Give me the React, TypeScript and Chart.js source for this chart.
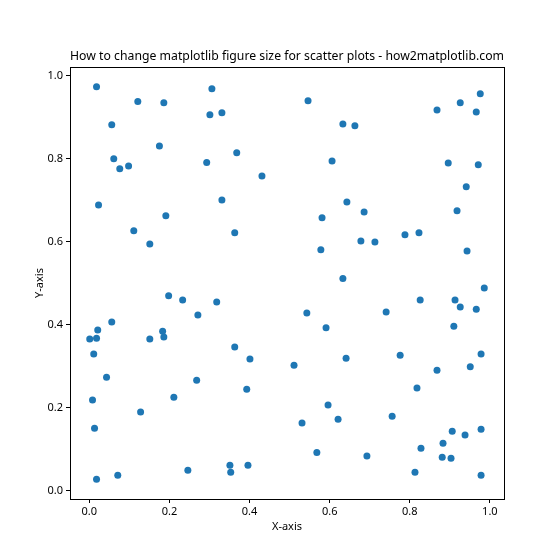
import React, { useEffect, useRef } from "react";
import { Chart, registerables } from "chart.js";

Chart.register(...registerables);

const xValues = [
  0.018, 0.121, 0.186, 0.306, 0.301, 0.331, 0.056, 0.175, 0.061, 0.076,
  0.098, 0.293, 0.368, 0.431, 0.023, 0.331, 0.191, 0.111, 0.363, 0.151,
  0.546, 0.633, 0.663, 0.868, 0.926, 0.966, 0.976, 0.606, 0.896, 0.971,
  0.941, 0.643, 0.581, 0.686, 0.918, 0.678, 0.713, 0.788, 0.823, 0.578,
  0.943, 0.633, 0.986, 0.826, 0.913, 0.926, 0.966, 0.543, 0.741, 0.591,
  0.910, 0.641, 0.776, 0.978, 0.511, 0.868, 0.951, 0.818, 0.596, 0.531,
  0.621, 0.756, 0.906, 0.938, 0.978, 0.883, 0.828, 0.568, 0.693, 0.881,
  0.903, 0.813, 0.978, 0.198, 0.233, 0.318, 0.271, 0.056, 0.021, 0.183,
  0.001, 0.018, 0.151, 0.186, 0.363, 0.401, 0.011, 0.043, 0.268, 0.393,
  0.211, 0.008, 0.128, 0.013, 0.351, 0.396, 0.353, 0.246, 0.071, 0.018,
];

const yValues = [
  0.973, 0.937, 0.934, 0.968, 0.905, 0.910, 0.881, 0.830, 0.799, 0.775,
  0.782, 0.790, 0.814, 0.758, 0.688, 0.700, 0.662, 0.626, 0.621, 0.594,
  0.939, 0.883, 0.879, 0.917, 0.934, 0.912, 0.956, 0.794, 0.789, 0.785,
  0.732, 0.695, 0.657, 0.671, 0.674, 0.601, 0.599, 0.616, 0.621, 0.580,
  0.577, 0.511, 0.488, 0.459, 0.459, 0.442, 0.437, 0.428, 0.430, 0.392,
  0.396, 0.319, 0.326, 0.329, 0.302, 0.290, 0.298, 0.247, 0.206, 0.163,
  0.172, 0.179, 0.143, 0.134, 0.148, 0.114, 0.102, 0.092, 0.083, 0.080,
  0.078, 0.044, 0.037, 0.469, 0.459, 0.454, 0.423, 0.406, 0.387, 0.384,
  0.365, 0.367, 0.365, 0.370, 0.346, 0.317, 0.329, 0.273, 0.266, 0.244,
  0.225, 0.218, 0.189, 0.150, 0.061, 0.061, 0.044, 0.049, 0.037, 0.027,
];

const xTicks = [0.0, 0.2, 0.4, 0.6, 0.8, 1.0];
const yTicks = [0.0, 0.2, 0.4, 0.6, 0.8, 1.0];

const titleText = "How to change matplotlib figure size for scatter plots - how2matplotlib.com";
const xLabel = "X-axis";
const yLabel = "Y-axis";

const FONT = "'Noto Sans', 'DejaVu Sans', sans-serif";

const framePlugin = {
  id: "frame",
  afterDraw(chart: any) {
    const { ctx, chartArea } = chart;
    ctx.save();
    ctx.strokeStyle = "#000";
    ctx.lineWidth = 1;
    ctx.strokeRect(
      Math.round(chartArea.left) + 0.5,
      Math.round(chartArea.top) + 0.5,
      Math.round(chartArea.right - chartArea.left),
      Math.round(chartArea.bottom - chartArea.top)
    );
    ctx.restore();
  },
};

function computeRange(vals: number[]) {
  const lo = Math.min(...vals);
  const hi = Math.max(...vals);
  const m = (hi - lo) * 0.05;
  return [lo - m, hi + m];
}

export default function App() {
  const ref = useRef<HTMLCanvasElement | null>(null);

  useEffect(() => {
    if (!ref.current) return;
    const [xmin, xmax] = computeRange(xValues);
    const [ymin, ymax] = computeRange(yValues);
    const points = xValues.map((x, i) => ({ x, y: yValues[i] }));
    const chart = new Chart(ref.current, {
      type: "scatter",
      data: {
        datasets: [
          {
            data: points,
            backgroundColor: "#1f77b4",
            borderColor: "#1f77b4",
            borderWidth: 0,
            pointRadius: 3.5,
            pointHoverRadius: 3.5,
          },
        ],
      },
      options: {
        responsive: false,
        animation: false,
        layout: { padding: { left: 0, right: 56, top: 0, bottom: 0 } },
        plugins: {
          legend: { display: false },
          tooltip: { enabled: false },
          title: {
            display: true,
            text: titleText,
            fullSize: false,
            color: "#000",
            font: { family: FONT, size: 13, weight: "normal" },
            padding: { top: 48.2, bottom: 3.2 },
          },
        },
        scales: {
          x: {
            type: "linear",
            min: xmin,
            max: xmax,
            afterFit(scale: any) {
              scale.height = 61;
            },
            afterBuildTicks(scale: any) {
              scale.ticks = xTicks.map((v) => ({ value: v }));
            },
            ticks: {
              color: "#000",
              font: { family: FONT, size: 11 },
              padding: 2,
              maxRotation: 0,
              autoSkip: false,
              callback: (v: any) => Number(v).toFixed(1),
            },
            grid: {
              drawOnChartArea: false,
              drawTicks: true,
              tickLength: 4,
              color: "#000",
            },
            border: { display: true, color: "#000" },
            title: {
              display: true,
              text: xLabel,
              color: "#000",
              font: { family: FONT, size: 11 },
              padding: { top: 0, bottom: 26.4 },
            },
          },
          y: {
            type: "linear",
            min: ymin,
            max: ymax,
            afterFit(scale: any) {
              scale.width = 70;
            },
            afterBuildTicks(scale: any) {
              scale.ticks = yTicks.map((v) => ({ value: v }));
            },
            ticks: {
              color: "#000",
              font: { family: FONT, size: 11 },
              padding: 3,
              autoSkip: false,
              callback: (v: any) => Number(v).toFixed(1),
            },
            grid: {
              drawOnChartArea: false,
              drawTicks: true,
              tickLength: 4,
              color: "#000",
            },
            border: { display: true, color: "#000" },
            title: {
              display: true,
              text: yLabel,
              color: "#000",
              font: { family: FONT, size: 11 },
              padding: { top: 33.4, bottom: 0 },
            },
          },
        },
      },
      plugins: [framePlugin],
    });
    return () => chart.destroy();
  }, []);

  return (
    <div style={{ position: "fixed", left: 0, top: 0, width: 560, height: 560, background: "#fff" }}>
      <canvas ref={ref} width={560} height={560} style={{ width: 560, height: 560 }} />
    </div>
  );
}
